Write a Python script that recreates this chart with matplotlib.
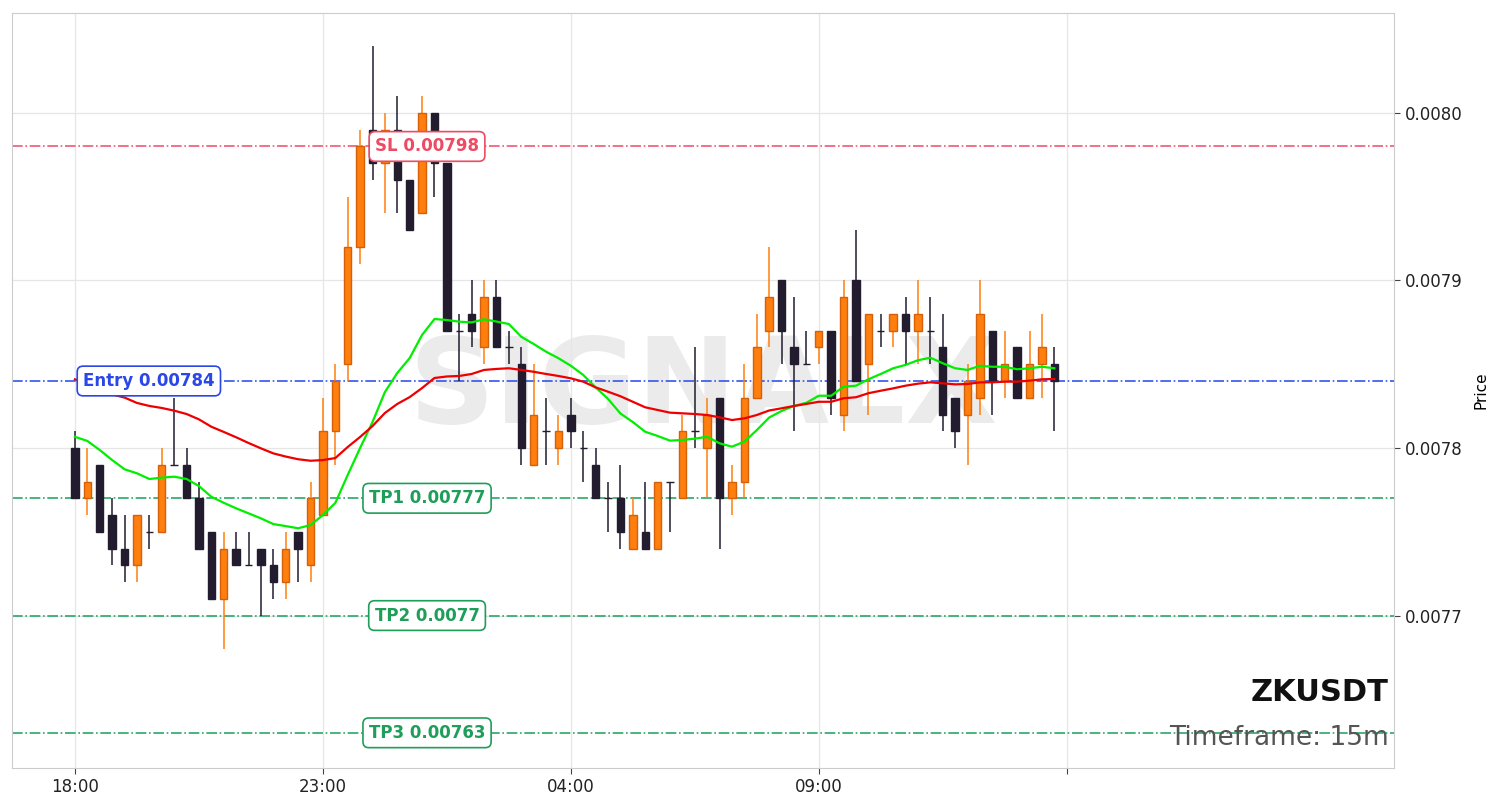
#!/usr/bin/env python3

import matplotlib
matplotlib.use('Agg')
import matplotlib.pyplot as plt
from matplotlib.patches import Rectangle

# candles, 15m, starting 18:00 (prices in 1e-5)
opens = [780, 777, 779, 776, 774, 773, 775, 775, 779, 779,
         777, 775, 771, 774, 773, 774, 773, 772, 775, 773,
         776, 781, 785, 792, 799, 797, 799, 796, 794, 800,
         797, 787, 788, 786, 789, 786, 785, 779, 781, 780,
         782, 780, 779, 777, 777, 774, 775, 774, 778, 777,
         781, 780, 783, 777, 778, 783, 787, 790, 786, 785,
         786, 787, 782, 790, 785, 787, 787, 788, 787, 787,
         786, 783, 782, 783, 787, 784, 786, 783, 785, 785]
highs = [781, 780, 779, 777, 776, 776, 776, 780, 783, 780,
         778, 775, 775, 775, 775, 774, 774, 775, 775, 778,
         783, 785, 795, 799, 804, 800, 801, 796, 801, 800,
         797, 788, 790, 790, 790, 787, 786, 785, 783, 782,
         783, 781, 780, 778, 779, 777, 778, 778, 778, 782,
         786, 783, 783, 779, 785, 788, 792, 790, 789, 787,
         787, 787, 790, 793, 788, 788, 788, 789, 790, 789,
         788, 783, 785, 790, 787, 787, 786, 787, 788, 786]
lows = [777, 776, 775, 773, 772, 772, 774, 775, 779, 777,
        774, 771, 768, 773, 773, 770, 771, 771, 772, 772,
        776, 779, 784, 791, 796, 794, 794, 793, 794, 795,
        787, 784, 786, 785, 786, 785, 779, 779, 779, 779,
        780, 778, 777, 775, 774, 774, 774, 774, 775, 777,
        780, 777, 774, 776, 777, 783, 786, 785, 781, 785,
        785, 782, 781, 784, 782, 786, 786, 785, 785, 785,
        781, 780, 779, 782, 782, 783, 783, 783, 783, 781]
closes = [777, 778, 775, 774, 773, 776, 775, 779, 779, 777,
          774, 771, 774, 773, 773, 773, 772, 774, 774, 777,
          781, 784, 792, 798, 797, 799, 796, 793, 800, 797,
          787, 787, 787, 789, 786, 786, 780, 782, 781, 781,
          781, 780, 777, 777, 775, 776, 774, 778, 778, 781,
          781, 782, 777, 778, 783, 786, 789, 787, 785, 785,
          787, 783, 789, 784, 788, 787, 788, 787, 788, 787,
          782, 781, 784, 788, 784, 785, 783, 785, 786, 784]

# moving averages (1e-5)
ma_fast = [780.67, 780.42, 779.88, 779.28, 778.73, 778.49, 778.15, 778.23, 778.29, 778.15,
           777.73, 777.09, 776.73, 776.40, 776.10, 775.80, 775.46, 775.34, 775.21, 775.40,
           776.00, 776.72, 778.39, 780.00, 781.55, 783.34, 784.48, 785.37, 786.75, 787.70,
           787.64, 787.54, 787.50, 787.68, 787.55, 787.40, 786.64, 786.21, 785.75, 785.36,
           784.91, 784.36, 783.62, 782.93, 782.06, 781.55, 780.97, 780.72, 780.44, 780.48,
           780.56, 780.67, 780.28, 780.08, 780.38, 781.07, 781.82, 782.21, 782.51, 782.70,
           783.12, 783.12, 783.66, 783.72, 784.10, 784.42, 784.76, 784.96, 785.24, 785.39,
           785.06, 784.76, 784.66, 784.91, 784.85, 784.85, 784.70, 784.76, 784.85, 784.76]
ma_slow = [784.10, 783.80, 783.50, 783.20, 783.01, 782.69, 782.51, 782.39, 782.23, 782.03,
           781.71, 781.27, 780.96, 780.64, 780.30, 779.98, 779.68, 779.49, 779.33, 779.24,
           779.28, 779.40, 780.06, 780.66, 781.31, 782.09, 782.63, 783.04, 783.58, 784.18,
           784.27, 784.30, 784.42, 784.66, 784.72, 784.76, 784.66, 784.55, 784.42, 784.30,
           784.16, 783.96, 783.62, 783.36, 783.09, 782.76, 782.43, 782.27, 782.11, 782.07,
           782.03, 781.97, 781.83, 781.67, 781.77, 781.97, 782.24, 782.37, 782.51, 782.63,
           782.76, 782.76, 782.97, 783.03, 783.27, 783.42, 783.56, 783.72, 783.84, 783.92,
           783.86, 783.80, 783.82, 783.92, 783.92, 783.96, 783.96, 784.02, 784.10, 784.12]

scale = 1e-5
tick_pos = [0, 20, 40, 60, 80]
tick_labels = ['18:00', '23:00', '04:00', '09:00', '']

entry = 0.00784
sl = 0.00798
tps = [0.00777, 0.0077, 0.00763]

fig = plt.figure(figsize=(15.01, 8.08), dpi=100)
ax = fig.add_axes([0.008, 0.0495, 0.9207, 0.9345])

up_col = '#ff7f0e'
up_edge = '#d4600a'
dn_col = '#221c2e'
w = 0.6
for i in range(len(opens)):
    o, h, l, c = (opens[i] * scale, highs[i] * scale,
                  lows[i] * scale, closes[i] * scale)
    if c > o:
        fc, ec, wc = up_col, up_edge, up_col
    else:
        fc, ec, wc = dn_col, dn_col, dn_col
    ax.vlines(i, l, h, color=wc, lw=1.1, zorder=2)
    bottom = min(o, c)
    height = abs(c - o)
    ax.add_patch(Rectangle((i - w / 2, bottom), w, height, facecolor=fc,
                           edgecolor=ec, lw=1.0, zorder=3))

xs = list(range(len(opens)))
ax.plot(xs, [v * scale for v in ma_fast], color='#00ee00', lw=1.6, zorder=4)
ax.plot(xs, [v * scale for v in ma_slow], color='#ee0000', lw=1.6, zorder=4)

# levels
ax.axhline(entry, color='#3355ee', ls='-.', lw=1.2, zorder=1)
ax.axhline(sl, color='#ee5a74', ls='-.', lw=1.2, zorder=1)
for tp in tps:
    ax.axhline(tp, color='#2aa866', ls='-.', lw=1.2, zorder=1)

box = dict(boxstyle='round,pad=0.35', facecolor='white', lw=1.2)
ax.text(0.65, entry, 'Entry %s' % entry, color='#2b47e8', fontsize=12,
        fontweight='bold', ha='left', va='center', zorder=6,
        bbox=dict(box, edgecolor='#2b47e8'))
ax.text(28.4, sl, 'SL %s' % sl, color='#ee4a64', fontsize=12,
        fontweight='bold', ha='center', va='center', zorder=6,
        bbox=dict(box, edgecolor='#ee4a64'))
for k, tp in enumerate(tps):
    ax.text(28.4, tp, 'TP%d %s' % (k + 1, tp), color='#1f9e5a', fontsize=12,
            fontweight='bold', ha='center', va='center', zorder=6,
            bbox=dict(box, edgecolor='#1f9e5a'))

# watermark
ax.text(0.5, 0.5, 'SIGNALX', transform=ax.transAxes, fontsize=86,
        fontweight='bold', color='#d8d8d8', alpha=0.5, ha='center',
        va='center', zorder=0)

ax.text(0.996, 0.1, 'ZKUSDT', transform=ax.transAxes, fontsize=22,
        fontweight='bold', color='#111111', ha='right', va='center')
ax.text(0.996, 0.04, 'Timeframe: 15m', transform=ax.transAxes, fontsize=19,
        color='#555555', ha='right', va='center')

ax.set_xlim(-5.08, 106.4)
ax.set_ylim(0.007609, 0.0080597)
ax.set_xticks(tick_pos)
ax.set_xticklabels(tick_labels, fontsize=12)
ax.set_yticks([0.0077, 0.0078, 0.0079, 0.0080])
ax.set_yticklabels(['0.0077', '0.0078', '0.0079', '0.0080'], fontsize=12)
ax.yaxis.tick_right()
ax.yaxis.set_label_position('right')
ax.set_ylabel('Price', fontsize=11, labelpad=8)
ax.grid(True, color='#e6e6e6', lw=0.9, zorder=0)
ax.set_axisbelow(True)
for s in ax.spines.values():
    s.set_color('#cccccc')
ax.tick_params(colors='#222222', length=4)
ax.tick_params(axis='both', color='#444444')

plt.savefig('out.png', dpi=100)
